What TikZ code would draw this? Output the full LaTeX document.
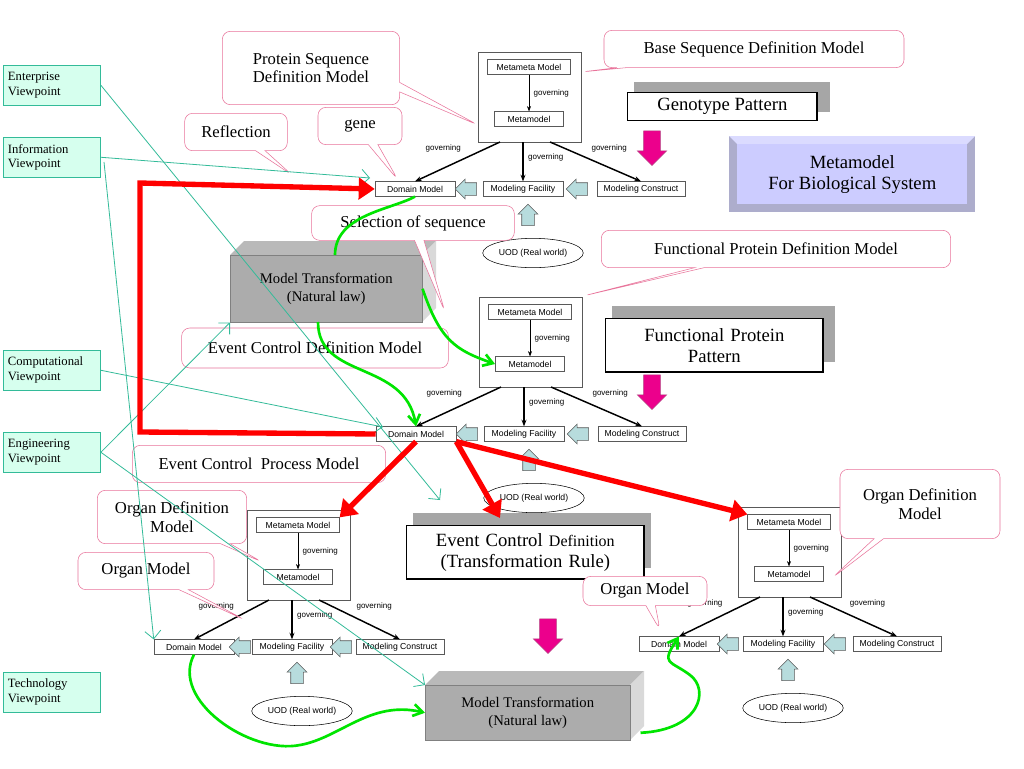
\documentclass[tikz,border=0pt]{standalone}
\usepackage{fontspec}
\setmainfont{Liberation Serif}
\newfontfamily\sanf{Liberation Sans}
\usetikzlibrary{shapes.callouts,shapes.arrows,shapes.geometric,arrows.meta}
\definecolor{pinkc}{HTML}{E8739A}
\definecolor{tealc}{HTML}{33BB99}
\definecolor{vpfill}{HTML}{D6FFEE}
\definecolor{lblue}{HTML}{B7DCDD}
\definecolor{lav}{HTML}{CCCCFF}
\tikzset{
 sm/.style={draw=gray!70!black,fill=white,font=\sanf\fontsize{6.5}{7}\selectfont,inner sep=2.5pt,minimum height=11pt},
 gov/.style={font=\sanf\fontsize{6}{7}\selectfont},
 garr/.style={-{Stealth[length=5pt]},line width=1.1pt},
 call/.style={rectangle callout,rounded corners=6pt,draw=pinkc,fill=white,font=\fontsize{12.5}{14}\selectfont,align=center,inner sep=4pt},
 rcall/.style={rectangle,rounded corners=6pt,draw=pinkc,fill=white,font=\fontsize{12.5}{14}\selectfont,align=center,inner sep=4pt},
 vp/.style={draw=tealc,fill=vpfill,font=\fontsize{9.5}{11}\selectfont,align=left,minimum width=73pt,minimum height=30pt,text width=66pt},
 tarr/.style={tealc,-{Straight Barb[length=6pt]},line width=0.6pt},
 rarr/.style={red,line width=4pt,-{Triangle[length=12pt,width=16pt]}},
 grn/.style={green!90!black,line width=2pt,-{Straight Barb[length=7pt,width=9pt]}},
 barr/.style={single arrow,draw=gray!70!black,fill=lblue,minimum height=16pt,minimum width=15pt,single arrow head extend=2.5pt,inner sep=4pt},
 marr/.style={single arrow,draw=magenta!70!black,fill=magenta,minimum height=26pt,minimum width=22pt,single arrow head extend=4pt,shape border rotate=270,inner sep=5pt},
 pat/.style={draw,line width=1pt,fill=white,font=\fontsize{14}{16}\selectfont,align=center,inner sep=4pt},
}
\newcommand\clusterAt[4]{% prefix, x, y, spread
\begin{scope}[shift={(#2,#3)}]
 \draw[gray!70!black,fill=white] (-51,0) rectangle (52,90);
 \node[sm,minimum width=62pt] (#1mm) at (0,15) {Metameta Model};
 \node[sm,minimum width=52pt] (#1m) at (0,67) {Metamodel};
 \draw[-{Stealth[length=4pt]}] (#1mm.south) -- (#1m.north) node[midway,right,gov]{governing};
 \node[sm,minimum width=60pt] (#1d) at (-#4,137) {Domain Model};
 \node[sm,minimum width=60pt] (#1f) at (-6,137) {Modeling Facility};
 \node[sm,minimum width=66pt] (#1c) at (#4-2,137) {Modeling Construct};
 \draw[garr] (-29,90) -- (#1d.north) node[pos=0.4,above left,gov]{governing};
 \draw[garr] (-6,90) -- (#1f.north) node[pos=0.4,right,gov]{governing};
 \draw[garr] (21,90) -- (#1c.north) node[pos=0.4,above right,gov]{governing};
 \path (#1d.east) -- (#1f.west) node[midway,barr,shape border rotate=180] (#1b1) {};
 \path (#1f.east) -- (#1c.west) node[midway,barr,shape border rotate=180] (#1b2) {};
 \node[barr,shape border rotate=90] (#1b3) at (-1,166) {};
 \node[draw,ellipse,fill=white,font=\sanf\fontsize{6.5}{7}\selectfont,minimum width=64pt,minimum height=22pt,inner sep=1pt] (#1u) at (4,201) {UOD (Real world)};
\end{scope}}
\begin{document}
\begin{tikzpicture}[x=0.75pt,y=-0.75pt]
\useasboundingbox[fill=white] (0,0) rectangle (1024,768);
% clusters
\clusterAt{A}{529}{52}{114}
\clusterAt{B}{530}{297}{114}
\clusterAt{C}{298}{510}{104}
\clusterAt{D}{789}{507}{110}
% viewpoints
\node[vp,anchor=north west] (ent) at (3,65) {Enterprise\\Viewpoint};
\node[vp,anchor=north west] (inf) at (3,137) {Information\\Viewpoint};
\node[vp,anchor=north west] (com) at (3,350) {Computational\\Viewpoint};
\node[vp,anchor=north west] (eng) at (3,432) {Engineering\\Viewpoint};
\node[vp,anchor=north west] (tec) at (3,672) {Technology\\Viewpoint};
% 3D gray boxes
\newcommand\grbox[5]{% name x1 y1 x2 y2
 \fill[gray!55] (#2,#3) -- (#2+14,#3-14) -- (#4+14,#3-14) -- (#4,#3) -- cycle;
 \fill[gray!30] (#4,#3) -- (#4+14,#3-14) -- (#4+14,#5-14) -- (#4,#5) -- cycle;
 \node[fill=gray!65!white,draw=gray,minimum width={(#4-#2)*0.75pt},minimum height={(#5-#3)*0.75pt},font=\fontsize{11}{13}\selectfont,align=center,anchor=north west,inner sep=0pt] (#1) at (#2,#3) {Model Transformation\\(Natural law)};}
\grbox{mt1}{230}{255}{422}{322}
\grbox{mt2}{425}{685}{630}{740}
% pattern boxes
\fill[gray!70] (634,82) rectangle (830,112);
\node[pat,anchor=north west,minimum width=142pt,minimum height=21pt] (gp) at (627,92) {Genotype Pattern};
\fill[gray!70] (612,306) rectangle (835,362);
\node[pat,anchor=north west,minimum width=163pt,minimum height=40pt,text width=150pt] (fp) at (605,318) {Functional Protein\\Pattern};
\fill[gray!70] (413,513) rectangle (651,568);
\node[pat,anchor=north west,minimum width=174pt,minimum height=40pt,text width=170pt] (ecd) at (406,525) {Event Control {\fontsize{12}{14}\selectfont Definition}\\(Transformation Rule)};
% metamodel for bio
\fill[lav!60!gray] (729,136) rectangle (975,212);
\fill[lav!70!white] (729,136) -- (737,144) -- (967,144) -- (975,136) -- cycle;
\node[fill=lav,anchor=north west,minimum width={230*0.75pt},minimum height={60*0.75pt},font=\fontsize{14}{16}\selectfont,align=center,inner sep=0pt] (mbs) at (737,144) {Metamodel\\For Biological System};
% magenta arrows
\node[marr] (ma1) at (652,144) {};
\node[marr] (ma2) at (652,388) {};
\node[marr] (ma3) at (548,632) {};
% callouts
\node[call,minimum width=133pt,minimum height=55pt,callout absolute pointer={(478,125)}] (c1) at (311,68) {Protein Sequence\\Definition Model};
\node[call,minimum width=225pt,minimum height=28pt,callout absolute pointer={(581,72)}] (c2) at (754,49) {Base Sequence Definition Model};
\node[call,minimum width=63pt,minimum height=28pt,callout absolute pointer={(398,180)}] (c3) at (360,126) {gene};
\node[call,minimum width=77pt,minimum height=28pt,callout absolute pointer={(292,175)}] (c4) at (236,132) {Reflection};
\node[call,minimum width=262pt,minimum height=28pt,callout absolute pointer={(583,296)}] (c6) at (776,249) {Functional Protein Definition Model};
\node[rcall,minimum width=200pt,minimum height=30pt] (c7) at (315,348) {Event Control Definition Model};
\node[rcall,minimum width=190pt,minimum height=28pt] (c8) at (259,464) {Event Control\ \ Process Model};
\node[call,minimum width=112pt,minimum height=40pt,callout absolute pointer={(262,562)}] (c9) at (172,517) {Organ Definition\\Model};
\node[call,minimum width=102pt,minimum height=28pt,callout absolute pointer={(245,620)}] (c10) at (146,571) {Organ Model};
\node[call,minimum width=120pt,minimum height=52pt,callout absolute pointer={(832,578)}] (c11) at (920,504) {Organ Definition\\Model};
\node[call,minimum width=93pt,minimum height=22pt,callout absolute pointer={(660,630)}] (c12) at (645,591) {Organ Model};
\node[call,minimum width=152pt,minimum height=26pt,callout absolute pointer={(445,312)}] (c5) at (413,223) {Selection of sequence};
% teal arrows
\draw[tarr] (ent.east) -- (440,500);
\draw[tarr] (inf.east) -- (370,178);
\draw[tarr] (104,162) -- (Cd.north west);
\draw[tarr] (com.east) -- (383,427);
\draw[tarr] (eng.east) -- (mt1.south west);
\draw[tarr] (eng.east) -- (mt2.north west);
% red arrows
\draw[red,line width=4pt,-{Triangle[length=12pt,width=16pt]}] (Bd.west) -- (140,432) -- (140,183) -- (Ad.west);
\draw[rarr] (Bd.south) -- (Cmm.north east);
\draw[rarr] (Bd.south east) -- (500,518);
\draw[rarr] (Bd.south east) -- (Dmm.north west);
% green arrows
\draw[green!90!black,line width=2pt] (Ad.south) .. controls (390,210) and (335,215) .. (335,255);
\draw[grn] (318,322) .. controls (318,380) and (405,360) .. (Bd.north);
\draw[grn] (mt1.east) .. controls (440,340) and (455,350) .. (Bm.west);
\draw[grn] (Cd.south) .. controls (170,700) and (250,755) .. (300,745) .. controls (340,738) and (370,700) .. (mt2.west);
\draw[grn] (mt2.east) ++(10,20) .. controls (700,730) and (710,690) .. (690,675) .. controls (670,660) and (660,665) .. (Dd.north);
\end{tikzpicture}
\end{document}
